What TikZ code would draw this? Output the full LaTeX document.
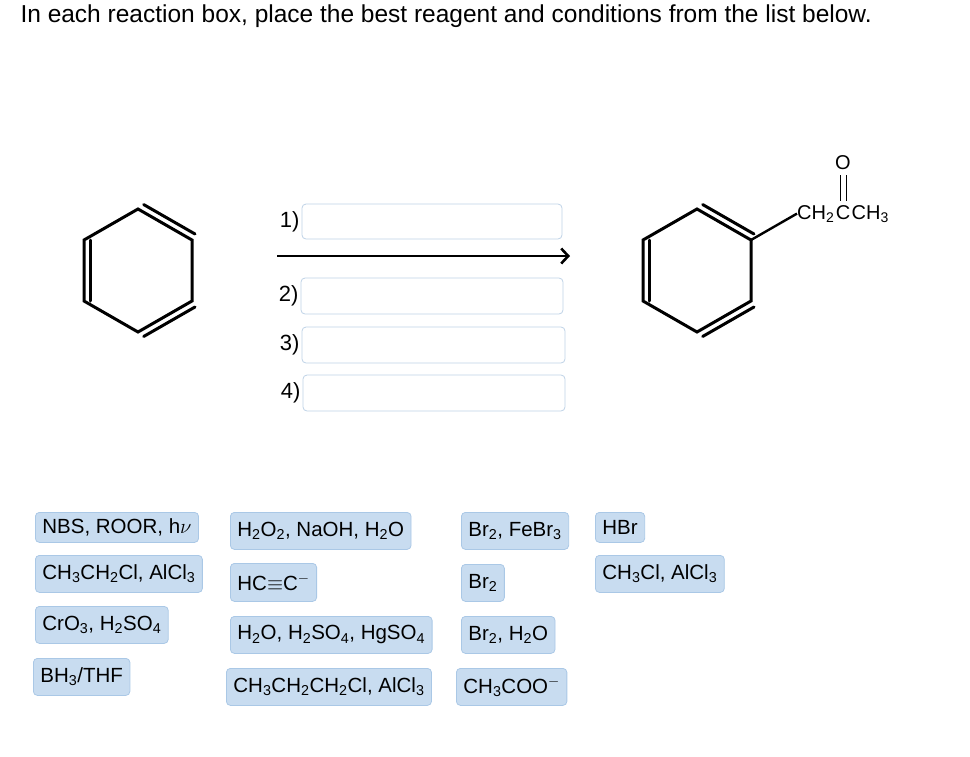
\documentclass[tikz,border=0pt]{standalone}
\usepackage{fontspec}
\setmainfont{Liberation Sans}
\usetikzlibrary{arrows.meta,calc}
\definecolor{chipfill}{RGB}{200,220,240}
\definecolor{chipdraw}{RGB}{170,200,230}
\definecolor{boxdraw}{RGB}{190,210,230}
\begin{document}
\begin{tikzpicture}[x=1pt,y=-1pt,
  chip/.style={draw=chipdraw,fill=chipfill,rounded corners=4pt,line width=0.8pt,anchor=north west,font=\fontsize{20.5}{24}\selectfont,inner xsep=7pt,minimum height=37pt},
  ansbox/.style={draw=boxdraw,rounded corners=4pt,line width=0.8pt},
  num/.style={font=\fontsize{22}{24}\selectfont,anchor=east},
  chem/.style={font=\fontsize{20}{24}\selectfont,inner sep=0pt},
  bond/.style={line width=3pt,line cap=round}]
\useasboundingbox (0,0) rectangle (970,756);
\node[anchor=west,font=\fontsize{24.5}{28}\selectfont] (title) at (17,16) {In each reaction box, place the best reagent and conditions from the list below.};
\foreach \n/\cx in {r/138,p/697}{
 \coordinate (\n1) at (\cx,209); \coordinate (\n2) at (\cx+54,240); \coordinate (\n3) at (\cx+54,301);
 \coordinate (\n4) at (\cx,332); \coordinate (\n5) at (\cx-54,301); \coordinate (\n6) at (\cx-54,240);
 \draw[bond] (\n1)--(\n2)--(\n3)--(\n4)--(\n5)--(\n6)--cycle;
 \draw[bond] ($(\n1)!0.05!(\n2)+(3,-6)$) -- ($(\n1)!1!(\n2)+(3,-6)$);
 \draw[bond] ($(\n3)!0!(\n4)+(3,6)$) -- ($(\n3)!0.95!(\n4)+(3,6)$);
 \draw[bond] ($(\n5)+(6,0)$) -- ($(\n6)+(6,0)$);
}
% substituent
\node[chem,anchor=base west] (ch2) at (797,219) {CH\textsubscript{2}};
\node[chem,anchor=base west] (cc) at ($(ch2.base east)+(1,0)$) {C};
\node[chem,anchor=base west] (ch3) at ($(cc.base east)+(1,0)$) {CH\textsubscript{3}};
\draw[line width=2.4pt] (p2) -- (ch2.west);
\node[chem] (oxy) at (cc.center |- 0,163) {O};
\draw[line width=1pt] ($(oxy.south)+(-3,5)$) -- ($(cc.north)+(-3,-4)$) ($(oxy.south)+(3,5)$) -- ($(cc.north)+(3,-4)$);
% arrow
\coordinate (a0) at (277,256); \coordinate (a1) at (570,256);
\draw[line width=2.6pt,-{Straight Barb[length=7pt,width=15pt]}] (a0) -- (a1);
% answer boxes
\foreach \i/\xa/\xb/\ya/\yb in {1/302/562/204/239,2/301/563/278/314,3/302/565/327/363,4/303/565/375/411}{
 \draw[ansbox] (\xa,\ya) rectangle (\xb,\yb);
 \node[num] (n\i) at (\xa+1,{(\ya+\yb)/2}) {\i)};
}
% chips
\node[chip,minimum height=30pt] (c1) at (35,512) {NBS, ROOR, h$\nu$};
\node[chip] (c2) at (230,512) {H\textsubscript{2}O\textsubscript{2}, NaOH, H\textsubscript{2}O};
\node[chip] (c3) at (461,512) {Br\textsubscript{2}, FeBr\textsubscript{3}};
\node[chip,minimum height=30pt] (c4) at (595,512) {HBr};
\node[chip] (c5) at (35,555) {CH\textsubscript{3}CH\textsubscript{2}Cl, AlCl\textsubscript{3}};
\node[chip,minimum height=38pt] (c6) at (230,563) {HC$\equiv$C\textsuperscript{$-$}};
\node[chip] (c7) at (461,564) {Br\textsubscript{2}};
\node[chip] (c8) at (595,555) {CH\textsubscript{3}Cl, AlCl\textsubscript{3}};
\node[chip] (c9) at (35,606) {CrO\textsubscript{3}, H\textsubscript{2}SO\textsubscript{4}};
\node[chip] (c10) at (230,616) {H\textsubscript{2}O, H\textsubscript{2}SO\textsubscript{4}, HgSO\textsubscript{4}};
\node[chip] (c11) at (461,616) {Br\textsubscript{2}, H\textsubscript{2}O};
\node[chip] (c12) at (33,658) {BH\textsubscript{3}/THF};
\node[chip] (c13) at (226,668) {CH\textsubscript{3}CH\textsubscript{2}CH\textsubscript{2}Cl, AlCl\textsubscript{3}};
\node[chip] (c14) at (456,668) {CH\textsubscript{3}COO\textsuperscript{$-$}};
\end{tikzpicture}
\end{document}
